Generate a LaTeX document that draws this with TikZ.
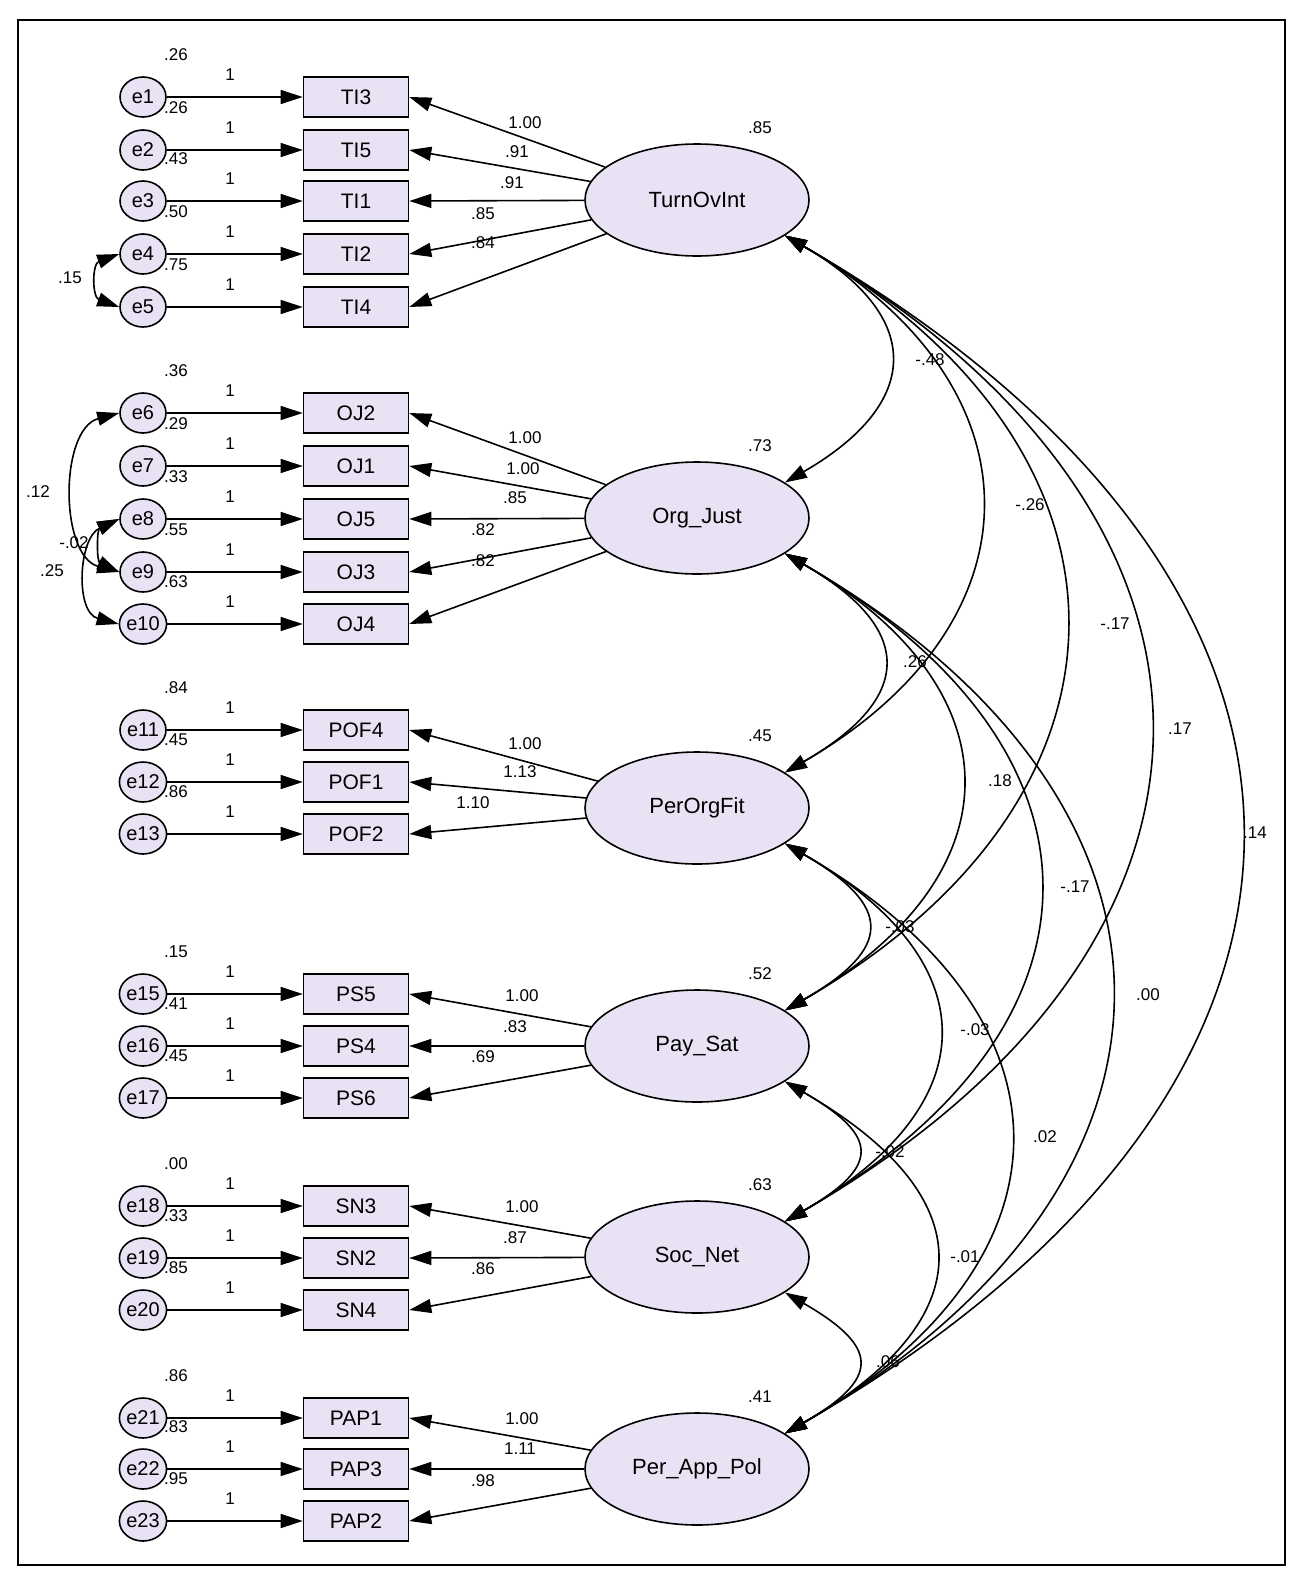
\documentclass[tikz,border=0pt]{standalone}
\usepackage{fontspec}
\setmainfont{Liberation Sans}
\usetikzlibrary{shapes.geometric,arrows.meta}
\definecolor{lav}{RGB}{232,226,244}
\begin{document}
\begin{tikzpicture}[x=0.5pt,y=-0.5pt,
  err/.style={ellipse,draw,thick,fill=lav,minimum width=23pt,minimum height=20pt,inner sep=0pt,font=\fontsize{10}{10}\selectfont},
  obs/.style={rectangle,draw,thick,fill=lav,minimum width=52.5pt,minimum height=20pt,inner sep=0pt,font=\fontsize{10.5}{10}\selectfont},
  lat/.style={ellipse,draw,thick,fill=lav,minimum width=112pt,minimum height=56pt,inner sep=0pt,font=\fontsize{11}{11}\selectfont},
  lab/.style={font=\fontsize{8.5}{8.5}\selectfont,inner sep=0pt},
  arr/.style={-{Triangle[length=11pt,width=7pt]},thick},
  cov/.style={{Triangle[length=11pt,width=7pt]}-{Triangle[length=11pt,width=7pt]},thick}]
\useasboundingbox (0,0) rectangle (1313,1580);
\fill[white] (0,0) rectangle (1313,1580);
\draw[line width=1pt] (18,20) rectangle (1285,1565);
% latent
\foreach \n/\t/\y/\v in {TO/TurnOvInt/200/.85, OJ/Org\_Just/518/.73, POF/PerOrgFit/808/.45, PS/Pay\_Sat/1046/.52, SN/Soc\_Net/1257/.63, PAP/Per\_App\_Pol/1469/.41}{
  \node[lat] (\n) at (697,\y) {\t};
  \node[lab] (v\n) at (760,\y-72) {\v};
}
% indicators
\foreach \r/\t/\y/\e/\ev/\L/\lx/\ly/\lat in {
 TIa/TI3/97/e1/.26/1.00/525/123/TO, TIb/TI5/150/e2/.26/.91/517/152/TO, TIc/TI1/201/e3/.43/.91/512/183/TO, TId/TI2/254/e4/.50/.85/483/214/TO, TIe/TI4/307/e5/.75/.84/483/243/TO,
 OJa/OJ2/413/e6/.36/1.00/525/438/OJ, OJb/OJ1/466/e7/.29/1.00/523/469/OJ, OJc/OJ5/519/e8/.33/.85/515/498/OJ, OJd/OJ3/572/e9/.55/.82/483/530/OJ, OJe/OJ4/624/e10/.63/.82/483/561/OJ,
 POFa/POF4/730/e11/.84/1.00/525/744/POF, POFb/POF1/782/e12/.45/1.13/520/772/POF, POFc/POF2/834/e13/.86/1.10/473/803/POF,
 PSa/PS5/994/e15/.15/1.00/522/996/PS, PSb/PS4/1046/e16/.41/.83/515/1027/PS, PSc/PS6/1098/e17/.45/.69/483/1057/PS,
 SNa/SN3/1206/e18/.00/1.00/522/1207/SN, SNb/SN2/1258/e19/.33/.87/515/1238/SN, SNc/SN4/1310/e20/.85/.86/483/1269/SN,
 PAPa/PAP1/1418/e21/.86/1.00/522/1419/PAP, PAPb/PAP3/1469/e22/.83/1.11/520/1449/PAP, PAPc/PAP2/1521/e23/.95/.98/483/1481/PAP}{
  \node[obs] (\r) at (356,\y) {\t};
  \node[err] (\e) at (143,\y) {\e};
  \node[lab] (v\e) at (176,\y-42) {\ev};
  \node[lab] (one\e) at (230,\y-22) {1};
  \node[lab] (l\r) at (\lx,\ly) {\L};
  \draw[arr] (\e) -- (\r.west);
  \draw[arr] (\lat) -- (\r.east);
}
% error covariances
\draw[cov] (e4.west) to[out=200,in=160,looseness=1.4] (e5.west);
\node[lab] (c45) at (70,278) {.15};
\draw[cov] (e6.west) to[out=195,in=165,looseness=1.0] (e9.west);
\node[lab] (c69) at (38,492) {.12};
\draw[cov] (e8.west) to[out=205,in=155,looseness=1.2] (e9.west);
\node[lab] (c89) at (74,543) {-.02};
\draw[cov] (e8.west) to[out=205,in=165,looseness=1.1] (e10.west);
\node[lab] (c810) at (52,571) {.25};
% latent covariances
\foreach \a/\b/\d/\lx/\ly/\v in {
 TO/OJ/160/930/360/-.48, TO/POF/300/1030/505/-.26, TO/PS/430/1115/624/-.17, TO/SN/560/1180/729/.17, TO/PAP/700/1255/833/.14,
 OJ/POF/150/915/662/.26, OJ/PS/270/1000/781/.18, OJ/SN/390/1075/887/-.17, OJ/PAP/500/1148/995/.00,
 POF/PS/125/900/927/-.03, POF/SN/235/975/1030/-.03, POF/PAP/345/1045/1137/.02,
 PS/SN/110/890/1152/-.02, PS/PAP/230/965/1257/-.01, SN/PAP/110/888/1362/.06}{
  \draw[cov] (\a.-22) to[out=-30,in=30,distance=\d*0.5pt] (\b.22);
  \node[lab] (c\a\b) at (\lx,\ly) {\v};
}
\end{tikzpicture}
\end{document}
